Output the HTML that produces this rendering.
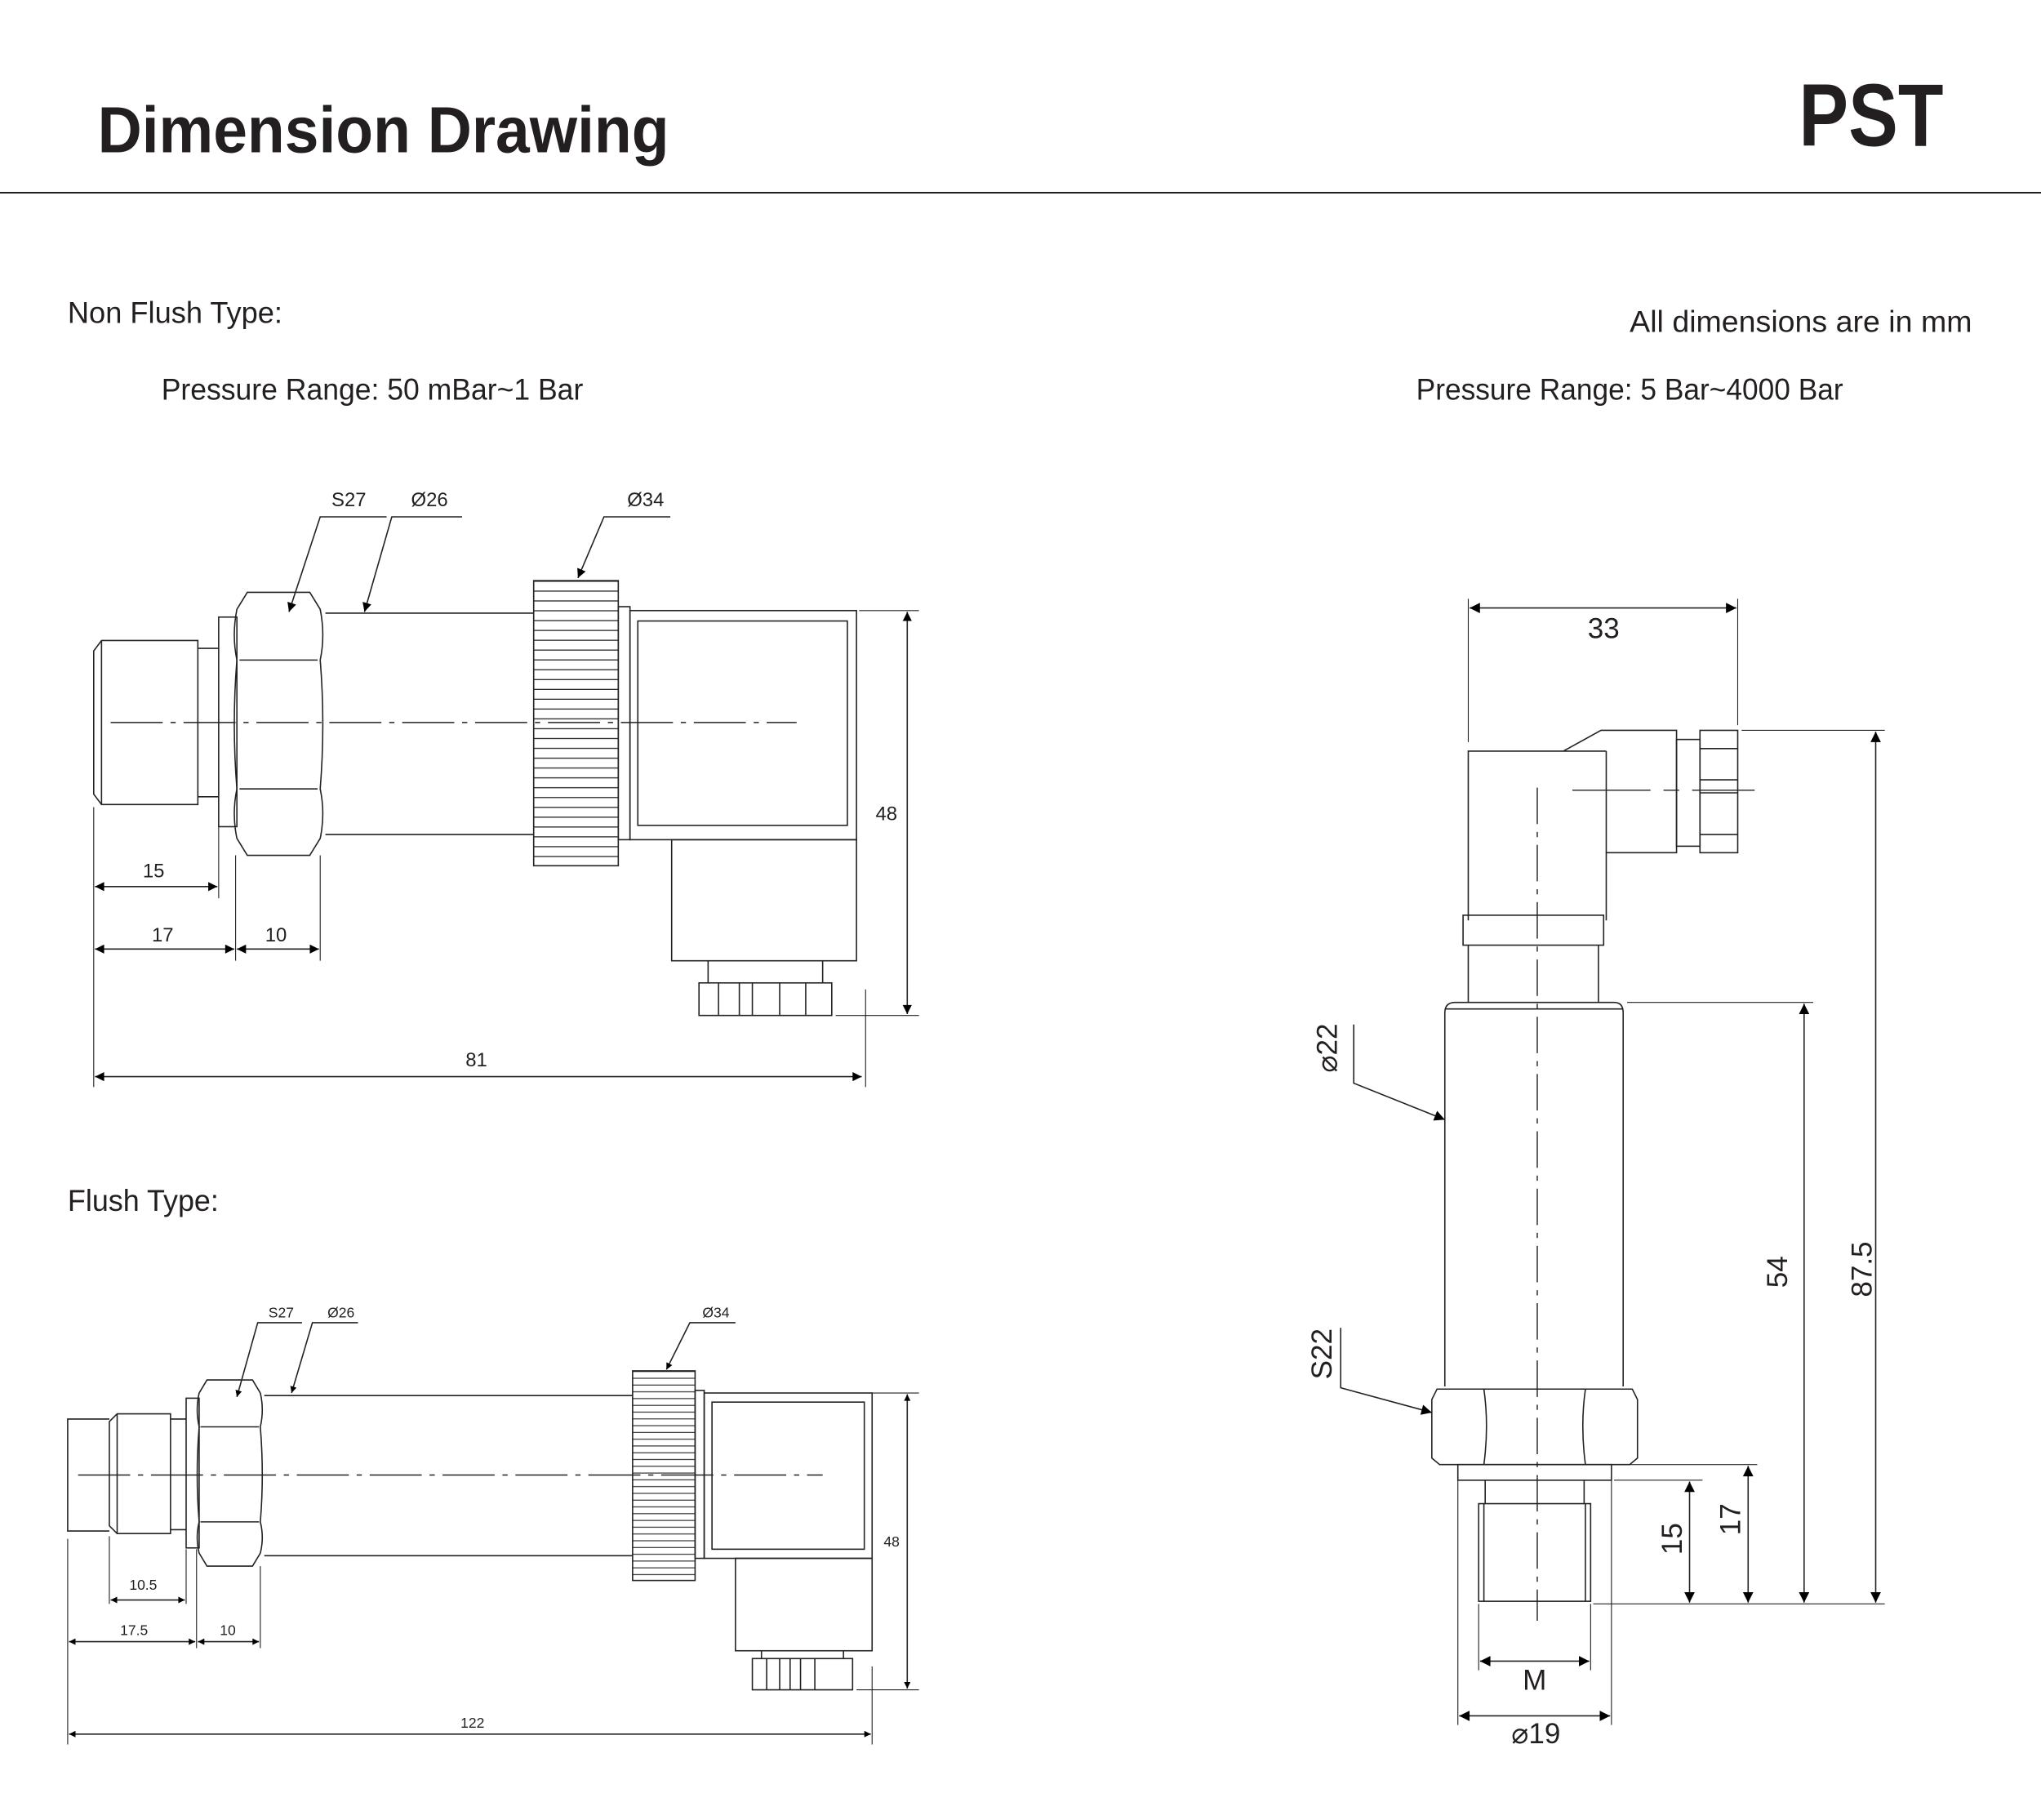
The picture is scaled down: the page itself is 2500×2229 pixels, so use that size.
<!DOCTYPE html>
<html><head><meta charset="utf-8"><style>
html,body{margin:0;padding:0;background:#fff;}
svg{display:block;}
text{font-family:"Liberation Sans",sans-serif;fill:#231f20;}
.t{font-family:"DejaVu Sans Condensed","DejaVu Sans",sans-serif;font-weight:200;}
</style></head><body>
<svg width="2500" height="2229" viewBox="0 0 1568 1398" preserveAspectRatio="none" xmlns="http://www.w3.org/2000/svg">
<defs>
<marker id="a" viewBox="0 0 10 10" refX="10" refY="5" markerWidth="18" markerHeight="7" markerUnits="userSpaceOnUse" orient="auto-start-reverse"><path d="M0,0L10,5L0,10z" fill="#000"/></marker>
<marker id="b" viewBox="0 0 10 10" refX="10" refY="5" markerWidth="12" markerHeight="5" markerUnits="userSpaceOnUse" orient="auto-start-reverse"><path d="M0,0L10,5L0,10z" fill="#000"/></marker>
<marker id="c" viewBox="0 0 10 10" refX="10" refY="5" markerWidth="20" markerHeight="8" markerUnits="userSpaceOnUse" orient="auto-start-reverse"><path d="M0,0L10,5L0,10z" fill="#000"/></marker>
<pattern id="k1" x="0" y="446" width="10" height="7.55" patternUnits="userSpaceOnUse"><line x1="0" y1="0.5" x2="10" y2="0.5" stroke="#222" stroke-width="0.8"/></pattern>
<pattern id="k2" x="0" y="1053" width="10" height="5.2" patternUnits="userSpaceOnUse"><line x1="0" y1="0.5" x2="10" y2="0.5" stroke="#222" stroke-width="0.7"/></pattern>
</defs>
<rect width="1568" height="1398" fill="#fff"/>
<text x="75" y="117" font-size="50" font-weight="bold" textLength="439" lengthAdjust="spacingAndGlyphs">Dimension Drawing</text>
<text x="1382" y="112" font-size="68" font-weight="bold" textLength="111" lengthAdjust="spacingAndGlyphs">PST</text>
<line x1="0" y1="148" x2="1568" y2="148" stroke="#231f20" stroke-width="1.3"/>
<text x="52" y="248" font-size="23" textLength="165" lengthAdjust="spacingAndGlyphs">Non Flush Type:</text>
<text x="1252" y="255" font-size="23" textLength="263" lengthAdjust="spacingAndGlyphs">All dimensions are in mm</text>
<text x="124" y="307" font-size="23" textLength="324" lengthAdjust="spacingAndGlyphs">Pressure Range: 50 mBar~1 Bar</text>
<text x="1088" y="307" font-size="23" textLength="328" lengthAdjust="spacingAndGlyphs">Pressure Range: 5 Bar~4000 Bar</text>
<text x="52" y="930" font-size="23" textLength="116" lengthAdjust="spacingAndGlyphs">Flush Type:</text>

<g fill="none" stroke="#222" stroke-width="1">
<!-- non flush -->
<path d="M78,492H152V618H78L72,610V500Z"/><line x1="78" y1="492" x2="78" y2="618"/>
<line x1="152" y1="498" x2="168" y2="498"/><line x1="152" y1="612" x2="168" y2="612"/>
<rect x="168" y="474" width="14" height="161"/>
<path d="M190,455H238L246,468Q250,488 246,507Q250,556 246,606Q250,625 246,644L238,657H190L182,644Q178,625 182,606Q178,556 182,507Q178,488 182,468Z"/>
<line x1="184" y1="507" x2="244" y2="507"/><line x1="184" y1="606" x2="244" y2="606"/>
<line x1="250" y1="471" x2="410" y2="471"/><line x1="250" y1="641" x2="410" y2="641"/>
<rect x="410" y="446" width="65" height="219" fill="url(#k1)"/>
<rect x="475" y="466" width="9" height="179"/>
<rect x="484" y="469" width="174" height="176"/><rect x="490" y="477" width="161" height="157"/>
<rect x="516" y="645" width="142" height="93"/>
<line x1="544" y1="738" x2="544" y2="755"/><line x1="632" y1="738" x2="632" y2="755"/>
<rect x="537" y="755" width="102" height="25"/>
<line x1="552" y1="755" x2="552" y2="780"/><line x1="568" y1="755" x2="568" y2="780"/><line x1="578" y1="755" x2="578" y2="780"/><line x1="599" y1="755" x2="599" y2="780"/><line x1="619" y1="755" x2="619" y2="780"/>
<line x1="85" y1="555" x2="612" y2="555" stroke-dasharray="40,6,4,6" stroke-width="0.9"/>
<!-- dims -->
<line x1="72" y1="620" x2="72" y2="835" stroke-width="0.7"/>
<line x1="168" y1="635" x2="168" y2="690" stroke-width="0.7"/>
<line x1="181" y1="657" x2="181" y2="738" stroke-width="0.7"/>
<line x1="246" y1="657" x2="246" y2="738" stroke-width="0.7"/>
<line x1="665" y1="760" x2="665" y2="835" stroke-width="0.7"/>
<line x1="660" y1="469" x2="706" y2="469" stroke-width="0.7"/>
<line x1="642" y1="780" x2="706" y2="780" stroke-width="0.7"/>
<line x1="73" y1="681" x2="167" y2="681" marker-start="url(#a)" marker-end="url(#a)"/>
<line x1="73" y1="729" x2="180" y2="729" marker-start="url(#a)" marker-end="url(#a)"/>
<line x1="182" y1="729" x2="245" y2="729" marker-start="url(#a)" marker-end="url(#a)"/>
<line x1="73" y1="827" x2="662" y2="827" marker-start="url(#a)" marker-end="url(#a)"/>
<line x1="697" y1="470" x2="697" y2="779" marker-start="url(#a)" marker-end="url(#a)"/>
<polyline points="297,397 246,397 222,470" marker-end="url(#a)"/>
<polyline points="355,397 301,397 280,470" marker-end="url(#a)"/>
<polyline points="515,397 464,397 444,444" marker-end="url(#a)"/>

<!-- flush -->
<path d="M84,1090H52V1176H84"/>
<path d="M90,1086H131V1178H90L84,1172V1092Z"/><line x1="90" y1="1086" x2="90" y2="1178"/>
<line x1="131" y1="1090" x2="143" y2="1090"/><line x1="131" y1="1175" x2="143" y2="1175"/>
<rect x="143" y="1074" width="10" height="115"/>
<path d="M159,1060H194L200,1070Q203,1083 200,1096Q203,1133 200,1169Q203,1181 200,1193L194,1203H159L153,1193Q150,1181 153,1169Q150,1133 153,1096Q150,1083 153,1070Z"/>
<line x1="154" y1="1096" x2="199" y2="1096"/><line x1="154" y1="1169" x2="199" y2="1169"/>
<line x1="203" y1="1072" x2="486" y2="1072"/><line x1="203" y1="1195" x2="486" y2="1195"/>
<rect x="486" y="1053" width="48" height="161" fill="url(#k2)"/>
<rect x="534" y="1068" width="7" height="129"/>
<rect x="541" y="1070" width="129" height="127"/><rect x="547" y="1077" width="117" height="113"/>
<rect x="565" y="1197" width="105" height="71"/>
<line x1="585" y1="1268" x2="585" y2="1274"/><line x1="648" y1="1268" x2="648" y2="1274"/>
<rect x="578" y="1274" width="77" height="24"/>
<line x1="589" y1="1274" x2="589" y2="1298"/><line x1="599" y1="1274" x2="599" y2="1298"/><line x1="607" y1="1274" x2="607" y2="1298"/><line x1="615" y1="1274" x2="615" y2="1298"/><line x1="626" y1="1274" x2="626" y2="1298"/>
<line x1="60" y1="1133" x2="632" y2="1133" stroke-dasharray="40,6,4,6" stroke-width="0.9"/>
<line x1="52" y1="1182" x2="52" y2="1340" stroke-width="0.7"/>
<line x1="84" y1="1180" x2="84" y2="1232" stroke-width="0.7"/>
<line x1="143" y1="1190" x2="143" y2="1232" stroke-width="0.7"/>
<line x1="151" y1="1190" x2="151" y2="1266" stroke-width="0.7"/>
<line x1="200" y1="1203" x2="200" y2="1266" stroke-width="0.7"/>
<line x1="670" y1="1280" x2="670" y2="1340" stroke-width="0.7"/>
<line x1="670" y1="1070" x2="706" y2="1070" stroke-width="0.7"/>
<line x1="658" y1="1298" x2="706" y2="1298" stroke-width="0.7"/>
<line x1="85" y1="1229" x2="142" y2="1229" marker-start="url(#b)" marker-end="url(#b)"/>
<line x1="53" y1="1261" x2="150" y2="1261" marker-start="url(#b)" marker-end="url(#b)"/>
<line x1="152" y1="1261" x2="199" y2="1261" marker-start="url(#b)" marker-end="url(#b)"/>
<line x1="53" y1="1332" x2="669" y2="1332" marker-start="url(#b)" marker-end="url(#b)"/>
<line x1="697" y1="1071" x2="697" y2="1297" marker-start="url(#b)" marker-end="url(#b)"/>
<polyline points="232,1016 198,1016 182,1073" marker-end="url(#b)"/>
<polyline points="275,1016 240,1016 224,1070" marker-end="url(#b)"/>
<polyline points="565,1016 530,1016 512,1052" marker-end="url(#b)"/>

<!-- right view -->
<path d="M1128,707V577H1201L1230,561H1288V655H1234V707"/>
<line x1="1234" y1="577" x2="1234" y2="655"/>
<line x1="1201" y1="577" x2="1234" y2="577"/>
<rect x="1288" y="568" width="18" height="82"/>
<rect x="1306" y="561" width="29" height="94"/>
<line x1="1306" y1="575" x2="1335" y2="575"/><line x1="1306" y1="599" x2="1335" y2="599"/><line x1="1306" y1="609" x2="1335" y2="609"/><line x1="1306" y1="641" x2="1335" y2="641"/>
<rect x="1124" y="703" width="108" height="23"/>
<line x1="1128" y1="726" x2="1128" y2="770"/><line x1="1228" y1="726" x2="1228" y2="770"/>
<path d="M1110,1065V778Q1110,770 1118,770H1240Q1247,770 1247,778V1065"/>
<line x1="1110" y1="775" x2="1247" y2="775"/>
<path d="M1104,1067H1254L1258,1075V1120L1252,1125H1106L1100,1120V1075Z"/>
<path d="M1140,1067Q1144,1095 1140,1125M1218,1067Q1214,1095 1218,1125"/>
<rect x="1120" y="1125" width="118" height="12"/>
<rect x="1136" y="1155" width="86" height="75"/>
<line x1="1140" y1="1155" x2="1140" y2="1230"/><line x1="1218" y1="1155" x2="1218" y2="1230"/>
<line x1="1141" y1="1137" x2="1141" y2="1155"/><line x1="1217" y1="1137" x2="1217" y2="1155"/>
<line x1="1181" y1="605" x2="1181" y2="1245" stroke-dasharray="28,6,4,6" stroke-width="0.9"/>
<line x1="1208" y1="607" x2="1348" y2="607" stroke-dasharray="60,10,12,10" stroke-width="0.8"/>
<line x1="1128" y1="460" x2="1128" y2="570" stroke-width="0.7"/>
<line x1="1335" y1="460" x2="1335" y2="557" stroke-width="0.7"/>
<line x1="1129" y1="467" x2="1334" y2="467" marker-start="url(#c)" marker-end="url(#c)"/>
<line x1="1338" y1="561" x2="1448" y2="561" stroke-width="0.7"/>
<line x1="1224" y1="1232" x2="1448" y2="1232" stroke-width="0.7"/>
<line x1="1250" y1="770" x2="1393" y2="770" stroke-width="0.7"/>
<line x1="1240" y1="1125" x2="1350" y2="1125" stroke-width="0.7"/>
<line x1="1240" y1="1137" x2="1308" y2="1137" stroke-width="0.7"/>
<line x1="1441" y1="562" x2="1441" y2="1231" marker-start="url(#c)" marker-end="url(#c)"/>
<line x1="1386" y1="771" x2="1386" y2="1231" marker-start="url(#c)" marker-end="url(#c)"/>
<line x1="1343" y1="1126" x2="1343" y2="1231" marker-start="url(#c)" marker-end="url(#c)"/>
<line x1="1298" y1="1138" x2="1298" y2="1231" marker-start="url(#c)" marker-end="url(#c)"/>
<line x1="1136" y1="1232" x2="1136" y2="1283" stroke-width="0.7"/>
<line x1="1222" y1="1232" x2="1222" y2="1283" stroke-width="0.7"/>
<line x1="1120" y1="1137" x2="1120" y2="1325" stroke-width="0.7"/>
<line x1="1238" y1="1137" x2="1238" y2="1325" stroke-width="0.7"/>
<line x1="1137" y1="1276" x2="1221" y2="1276" marker-start="url(#c)" marker-end="url(#c)"/>
<line x1="1121" y1="1318" x2="1237" y2="1318" marker-start="url(#c)" marker-end="url(#c)"/>
<polyline points="1040,787 1040,832 1110,860" marker-end="url(#c)"/>
<polyline points="1030,1020 1030,1066 1100,1085" marker-end="url(#c)"/>
</g>

<g font-size="15">
<text x="268" y="389" text-anchor="middle">S27</text>
<text x="330" y="389" text-anchor="middle">Ø26</text>
<text x="496" y="389" text-anchor="middle">Ø34</text>
<text x="118" y="674" text-anchor="middle">15</text>
<text x="125" y="723" text-anchor="middle">17</text>
<text x="212" y="723" text-anchor="middle">10</text>
<text x="366" y="819" text-anchor="middle">81</text>
<text x="681" y="630" text-anchor="middle">48</text>
</g>
<g font-size="11">
<text x="216" y="1012" text-anchor="middle">S27</text>
<text x="262" y="1012" text-anchor="middle">Ø26</text>
<text x="550" y="1012" text-anchor="middle">Ø34</text>
<text x="110" y="1221" text-anchor="middle">10.5</text>
<text x="103" y="1256" text-anchor="middle">17.5</text>
<text x="175" y="1256" text-anchor="middle">10</text>
<text x="363" y="1327" text-anchor="middle">122</text>
<text x="685" y="1188" text-anchor="middle">48</text>
</g>
<g font-size="22" class="t">
<text x="1232" y="490" text-anchor="middle">33</text>
<text x="1179" y="1298" text-anchor="middle">M</text>
<text x="1180" y="1339" text-anchor="middle">⌀19</text>
<text transform="translate(1373,977) rotate(-90)" text-anchor="middle">54</text>
<text transform="translate(1438,975) rotate(-90)" text-anchor="middle">87.5</text>
<text transform="translate(1337,1167) rotate(-90)" text-anchor="middle">17</text>
<text transform="translate(1292,1182) rotate(-90)" text-anchor="middle">15</text>
<text transform="translate(1027,805) rotate(-90)" text-anchor="middle">⌀22</text>
<text transform="translate(1023,1040) rotate(-90)" text-anchor="middle">S22</text>
</g>
</svg>
</body></html>
